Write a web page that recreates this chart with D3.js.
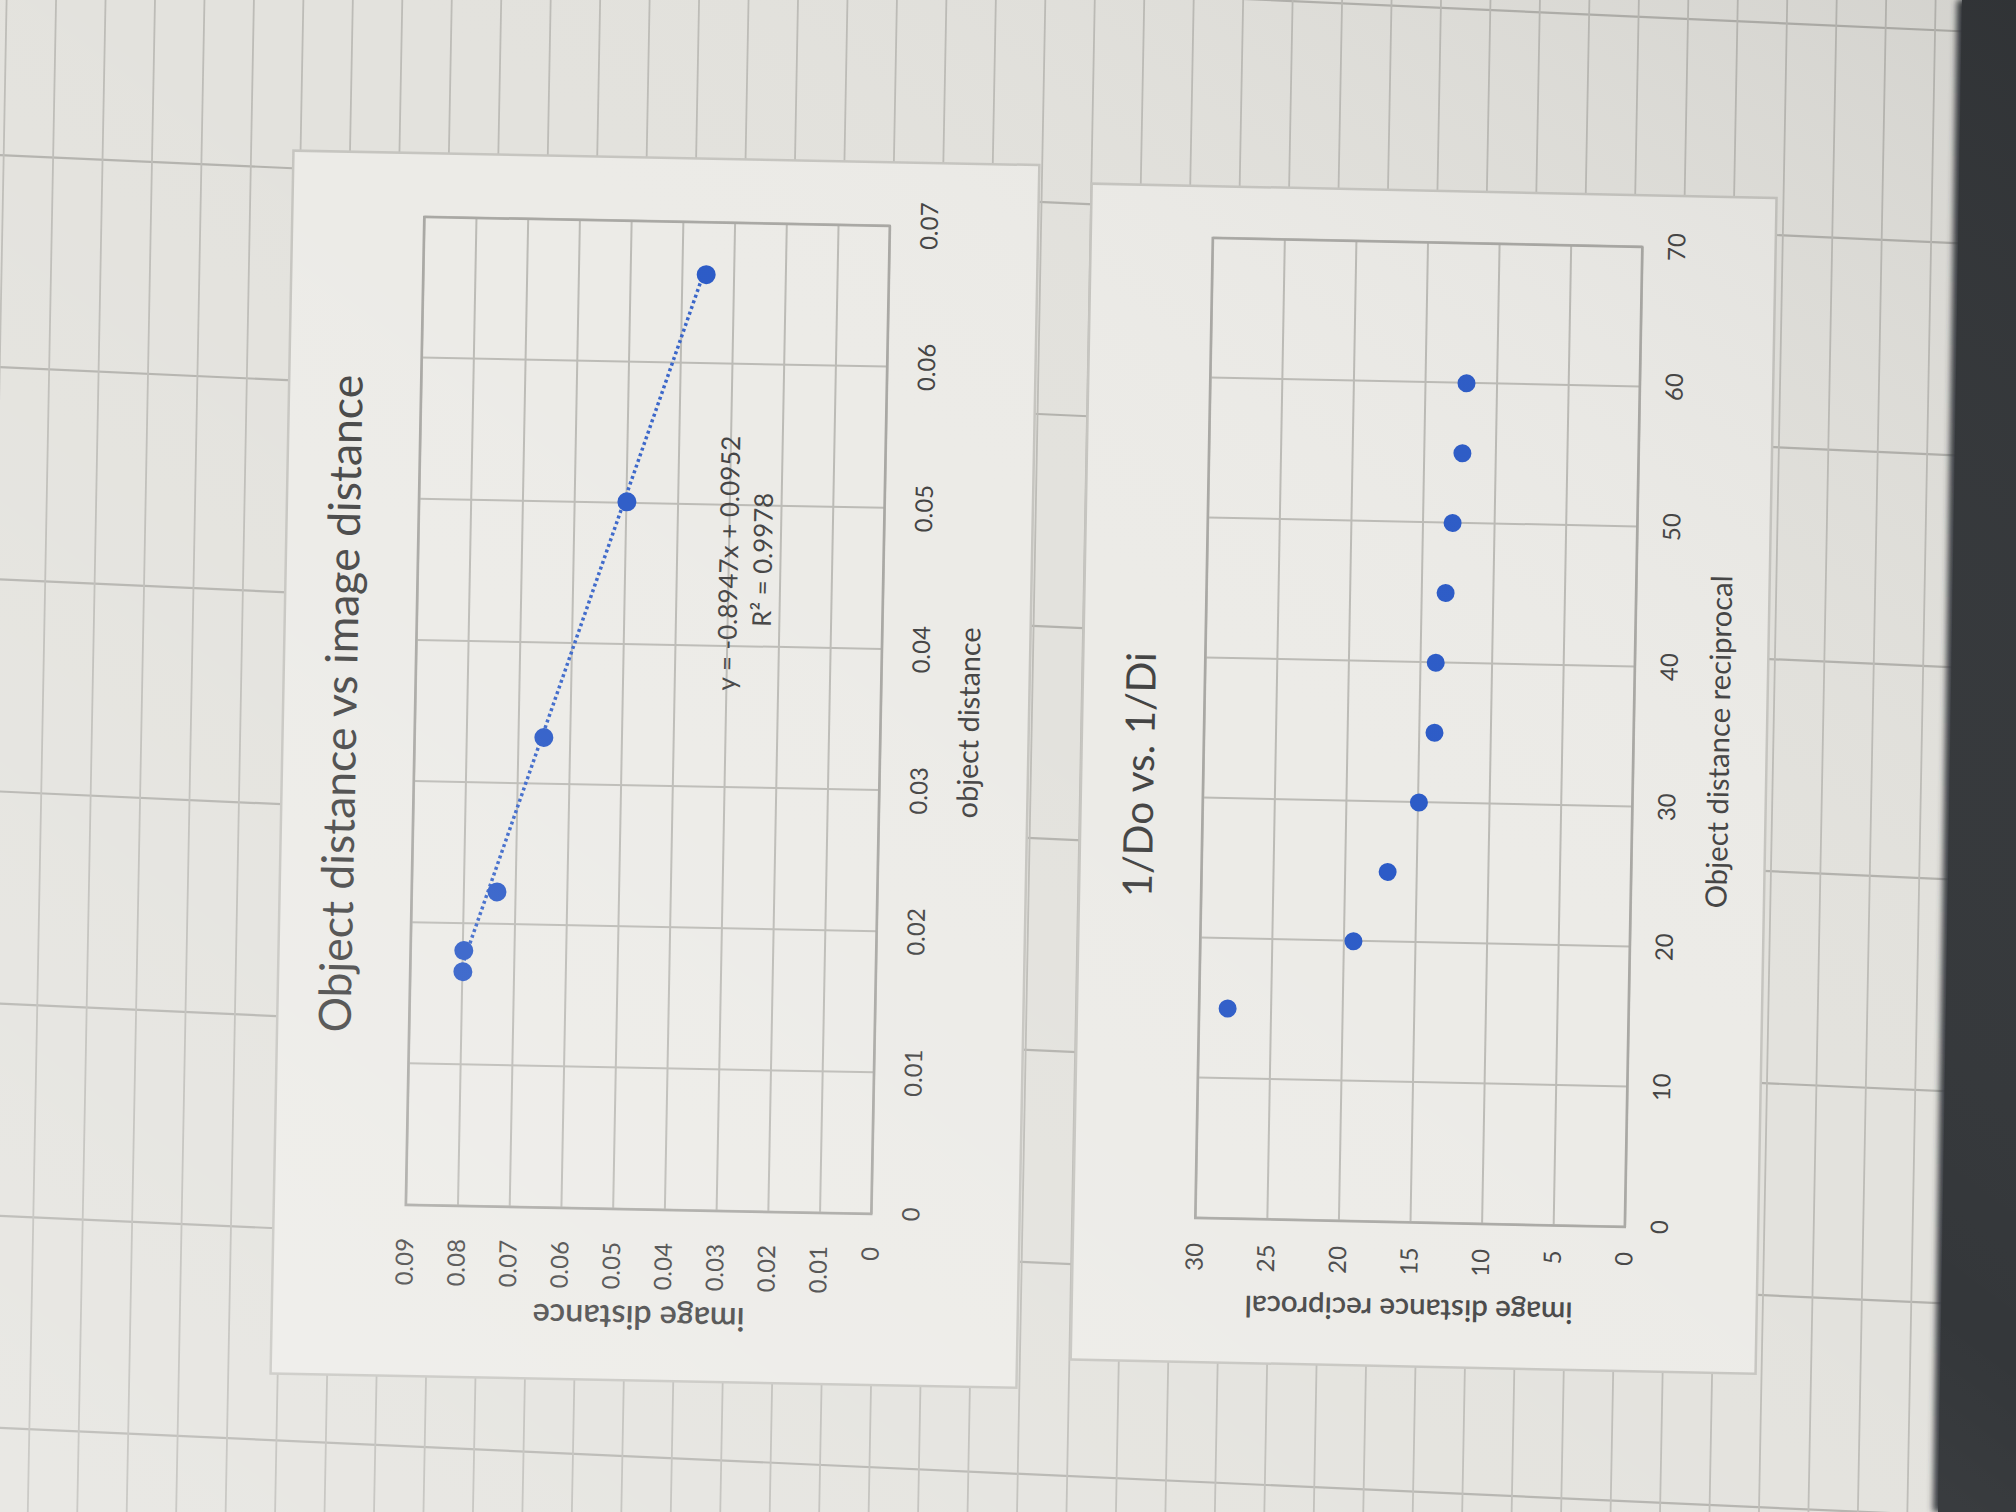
<!DOCTYPE html>
<html><head><meta charset="utf-8">
<script src="https://cdn.jsdelivr.net/npm/d3@7"></script>
<style>html,body{margin:0;padding:0;background:#e3e2dd;overflow:hidden}svg{display:block}</style>
</head><body>
<svg id="c" width="2016" height="1512"></svg>
<script>
// ---------- data ----------
const chart1Title = "Object distance vs image distance";
const chart1XLabel = "object distance";
const chart1YLabel = "image distance";
const objectDistance = [0.0166, 0.0181, 0.0223, 0.0333, 0.0501, 0.0663];
const imageDistance  = [0.0798, 0.0797, 0.0735, 0.0650, 0.0498, 0.0353];
const chart1XTicks = [0, 0.01, 0.02, 0.03, 0.04, 0.05, 0.06, 0.07];
const chart1YTicks = [0, 0.01, 0.02, 0.03, 0.04, 0.05, 0.06, 0.07, 0.08, 0.09];
const trendSlope = -0.8947;
const trendIntercept = 0.0952;
const trendEquation = "y = -0.8947x + 0.0952";
const trendR2 = "R² = 0.9978";

const chart2Title = "1/Do vs. 1/Di";
const chart2XLabel = "Object distance reciprocal";
const chart2YLabel = "image distance reciprocal";
const objectReciprocal = [15, 20, 25, 30, 35, 40, 45, 50, 55, 60];
const imageReciprocal  = [28.0, 19.3, 17.0, 14.9, 13.9, 13.9, 13.3, 12.9, 12.3, 12.1];
const chart2XTicks = [0, 10, 20, 30, 40, 50, 60, 70];
const chart2YTicks = [0, 5, 10, 15, 20, 25, 30];

// ---------- layout / style ----------
const W = 2016, H = 1512;
const FONT = "Lato, 'Open Sans', sans-serif";
const TEXT = "#444444", GRID = "#bcbbb6", BORDER = "#a9a8a4", DOT = "#2c5bc7";
const svg = d3.select("#c");
const defs = svg.append("defs");
const lg = defs.append("linearGradient").attr("id","light").attr("x1","0").attr("y1","1").attr("x2","1").attr("y2","0");
lg.append("stop").attr("offset","0").attr("stop-color","#ffffff").attr("stop-opacity",0.22);
lg.append("stop").attr("offset","0.55").attr("stop-color","#ffffff").attr("stop-opacity",0.0);
lg.append("stop").attr("offset","1").attr("stop-color","#000000").attr("stop-opacity",0.07);
defs.append("filter").attr("id","blur").append("feGaussianBlur").attr("stdDeviation",3);

svg.append("rect").attr("width",W).attr("height",H).attr("fill","#e3e2dd");

// photographed frames (screen is rotated ~ -90deg with slight perspective)
const M1 = [0.018722, -0.99983, 0.99981, 0.01933, 405.75, 1205];
const M2 = [0.017854, -0.99984, 0.99978, 0.02095, 1195.25, 1218];
const MB = [0.0187, -0.99983, 0.999, 0.045, 1195.25, 1218];

// spreadsheet cell grid behind the charts
const bg = svg.append("g").attr("transform", `matrix(${MB.join(",")})`);
d3.range(-3, 7).forEach(k => {
  const lx = 160.4 + 212 * k;
  bg.append("line").attr("x1", lx).attr("x2", lx).attr("y1", -1400).attr("y2", 950)
    .attr("stroke", "#b3b2ad").attr("stroke-width", 2.2);
});
d3.range(-37, 8).forEach(k => {
  const ly = 569.3 + 49.47 * k;
  bg.append("line").attr("x1", -500).attr("x2", 1450).attr("y1", ly).attr("y2", ly)
    .attr("stroke", "#bdbcb7").attr("stroke-width", 1.8);
});

function fitText(sel, target) {
  const L = sel.node().getComputedTextLength();
  const fs = parseFloat(sel.attr("font-size"));
  if (L > 0) sel.attr("font-size", fs * target / L);
}

function drawChart(o) {
  const g = svg.append("g").attr("transform", `matrix(${o.M.join(",")})`);
  g.append("rect").attr("x", o.card[0]).attr("y", o.card[1]).attr("width", o.card[2]).attr("height", o.card[3])
    .attr("fill", "#ecebe7").attr("stroke", "#c6c5c0").attr("stroke-width", 2.5);

  const x = d3.scaleLinear().domain(o.xDomain).range([0, o.PW]);
  const y = d3.scaleLinear().domain(o.yDomain).range([o.PH, 0]);

  const gx = g.append("g").attr("transform", `translate(0,${o.PH})`)
    .call(d3.axisBottom(x).tickValues(o.xTicks).tickSize(-o.PH).tickFormat(""));
  gx.select(".domain").remove();
  gx.selectAll("line").attr("stroke", GRID).attr("stroke-width", 2);
  const gy = g.append("g")
    .call(d3.axisLeft(y).tickValues(o.yTicks).tickSize(-o.PW).tickFormat(""));
  gy.select(".domain").remove();
  gy.selectAll("line").attr("stroke", GRID).attr("stroke-width", 2);
  g.append("rect").attr("width", o.PW).attr("height", o.PH).attr("fill", "none")
    .attr("stroke", BORDER).attr("stroke-width", 2.5);

  const xa = g.append("g").attr("transform", `translate(0,${o.PH})`)
    .call(d3.axisBottom(x).tickValues(o.xTicks).tickSize(0).tickPadding(o.xPad).tickFormat(o.fmtX));
  xa.select(".domain").remove();
  xa.selectAll("text").attr("font-family", FONT).attr("font-size", o.tickFs).attr("fill", TEXT);
  const ya = g.append("g")
    .call(d3.axisLeft(y).tickValues(o.yTicks).tickSize(0).tickPadding(o.yPad).tickFormat(o.fmtY));
  ya.select(".domain").remove();
  ya.selectAll("text").attr("font-family", FONT).attr("font-size", o.tickFs).attr("fill", TEXT);

  const t = g.append("text").attr("x", o.titlePos[0]).attr("y", o.titlePos[1])
    .attr("text-anchor", "middle").attr("dominant-baseline", "central")
    .attr("font-family", FONT).attr("font-size", 36).attr("fill", "#444").text(o.title);
  fitText(t, o.titleLen);
  const xt = g.append("text").attr("x", o.xTitlePos[0]).attr("y", o.xTitlePos[1])
    .attr("text-anchor", "middle").attr("dominant-baseline", "central")
    .attr("font-family", FONT).attr("font-size", 26).attr("fill", TEXT).text(o.xTitle);
  fitText(xt, o.xTitleLen);
  const yt = g.append("text").attr("transform", `translate(${o.yTitlePos[0]},${o.yTitlePos[1]}) rotate(-90)`)
    .attr("text-anchor", "middle").attr("dominant-baseline", "central")
    .attr("font-family", FONT).attr("font-weight", 600).attr("font-size", 26).attr("fill", TEXT).text(o.yTitle);
  fitText(yt, o.yTitleLen);
  return {g, x, y};
}

const fmt1 = d => d === 0 ? "0" : d3.format(".2f")(d);
const fmtInt = d3.format("d");

// ---------- chart 1 ----------
const c1 = drawChart({
  M: M1, PW: 988.2, PH: 465.6, card: [-171, -132, 1223, 746],
  xDomain: [0, 0.07], yDomain: [0, 0.09], xTicks: chart1XTicks, yTicks: chart1YTicks,
  fmtX: fmt1, fmtY: fmt1, tickFs: 24, xPad: 31, yPad: 33,
  title: chart1Title, titlePos: [500, -76], titleLen: 658,
  xTitle: chart1XLabel, xTitlePos: [493, 553], xTitleLen: 191,
  yTitle: chart1YLabel, yTitlePos: [-109, 235], yTitleLen: 212
});
const ext = d3.extent(objectDistance);
c1.g.append("line")
  .attr("x1", c1.x(ext[0])).attr("y1", c1.y(trendSlope * ext[0] + trendIntercept))
  .attr("x2", c1.x(ext[1])).attr("y2", c1.y(trendSlope * ext[1] + trendIntercept))
  .attr("stroke", "#3a66c9").attr("stroke-width", 3.5).attr("stroke-dasharray", "3 3");
c1.g.selectAll("circle.p").data(objectDistance).join("circle").attr("class", "p")
  .attr("cx", d => c1.x(d)).attr("cy", (d, i) => c1.y(imageDistance[i]))
  .attr("r", 9.5).attr("fill", DOT);
const eq = c1.g.append("text").attr("x", 648).attr("y", 310).attr("text-anchor", "middle")
  .attr("dominant-baseline", "central").attr("font-family", FONT).attr("font-size", 22)
  .attr("fill", TEXT).text(trendEquation);
fitText(eq, 255);
const r2 = c1.g.append("text").attr("x", 652).attr("y", 344).attr("text-anchor", "middle")
  .attr("dominant-baseline", "central").attr("font-family", FONT).attr("font-size", 22)
  .attr("fill", TEXT).text(trendR2);
fitText(r2, 134);

// ---------- chart 2 ----------
const c2 = drawChart({
  M: M2, PW: 980.2, PH: 429.6, card: [-144, -122, 1176, 685],
  xDomain: [0, 70], yDomain: [0, 30], xTicks: chart2XTicks, yTicks: chart2YTicks,
  fmtX: fmtInt, fmtY: fmtInt, tickFs: 24, xPad: 26, yPad: 25,
  title: chart2Title, titlePos: [442, -65], titleLen: 245,
  xTitle: chart2XLabel, xTitlePos: [487, 514], xTitleLen: 333,
  yTitle: chart2YLabel, yTitlePos: [-88, 215], yTitleLen: 328
});
c2.g.selectAll("circle.p").data(objectReciprocal).join("circle").attr("class", "p")
  .attr("cx", d => c2.x(d)).attr("cy", (d, i) => c2.y(imageReciprocal[i]))
  .attr("r", 9).attr("fill", DOT);

// monitor bezel at the right edge
svg.append("polygon").attr("points", "1957,0 2016,0 2016,1512 1933,1512")
  .attr("fill", "#36393c").attr("filter", "url(#blur)");
svg.append("polygon").attr("points", "1962,0 2016,0 2016,1512 1938,1512").attr("fill", "#34373a");

// photo lighting
svg.append("rect").attr("width", W).attr("height", H).attr("fill", "url(#light)").attr("pointer-events", "none");
</script>
</body></html>
